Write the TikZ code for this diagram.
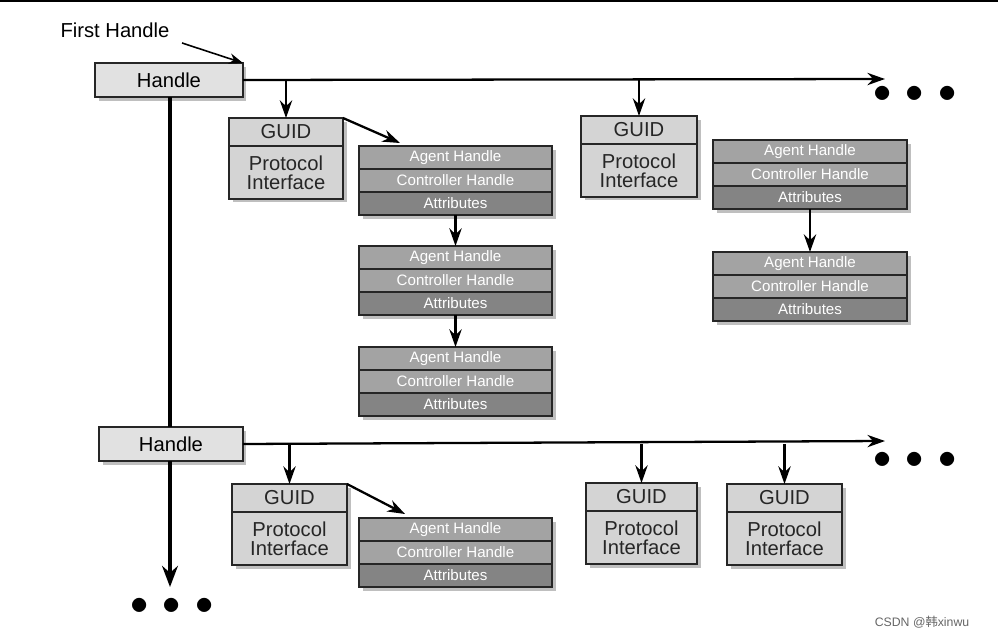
\documentclass[tikz,border=0pt]{standalone}
\usepackage{fontspec}
\setmainfont{Liberation Sans}
\newfontfamily\cjk{Noto Sans CJK SC}
\usetikzlibrary{arrows.meta,shadows}
\definecolor{lg}{HTML}{D4D4D4}
\definecolor{mg}{HTML}{A3A3A3}
\definecolor{dg}{HTML}{848484}
\tikzset{
 box/.style={draw=black!85,line width=1.3pt,inner sep=0,outer sep=0,anchor=north west,
   drop shadow={shadow xshift=2pt,shadow yshift=-2pt,fill=black,opacity=0.25}},
 hbox/.style={box,fill=lg!70,font=\fontsize{11.5}{12}\selectfont},
 guidrow/.style={box,fill=lg,font=\fontsize{11.5}{12}\selectfont,text=black!85},
 arow/.style={box,fill=mg,text=white,font=\fontsize{8.6}{9}\selectfont},
 trow/.style={box,fill=dg,text=white,font=\fontsize{8.6}{9}\selectfont},
 arr/.style={line width=1.3pt,-{Stealth[length=10pt,width=7pt]}},
 ln/.style={line width=1.8pt},
 dots/.style={inner sep=0,font=\fontsize{20}{20}\selectfont}
}
\newcommand\agentblock[4]{%
 \node[arow,minimum width={(#3-#2)*0.02cm},minimum height=0.46cm] (#1a) at (#2,#4) {Agent Handle};
 \node[arow,minimum width={(#3-#2)*0.02cm},minimum height=0.46cm] (#1c) at (#1a.south west) {Controller Handle};
 \node[trow,minimum width={(#3-#2)*0.02cm},minimum height=0.46cm] (#1t) at (#1c.south west) {Attributes};}
\newcommand\guidbox[4]{%
 \node[guidrow,minimum width={(#3-#2)*0.02cm},minimum height=0.56cm] (#1g) at (#2,#4) {GUID};
 \node[guidrow,minimum width={(#3-#2)*0.02cm},minimum height=1.06cm,align=center] (#1p) at (#1g.south west) {Protocol\\[-1pt]Interface};}
\begin{document}
\begin{tikzpicture}[x=0.02cm,y=-0.02cm]
\useasboundingbox (0,0) rectangle (998,639);
\fill[white] (0,0) rectangle (998,639);
\draw[line width=0.8pt] (0,1) -- (998,1);
\node[font=\fontsize{11.5}{12}\selectfont] (fh) at (115,30) {First Handle};
% handles
\node[hbox,minimum width=2.96cm,minimum height=0.68cm] (h1) at (95,63) {Handle};
\node[hbox,minimum width=2.88cm,minimum height=0.68cm] (h2) at (99,427) {Handle};
\coordinate (fha) at (182,43);
\draw[line width=0.9pt,-{Stealth[length=8pt,width=6pt]}] (fha) -- (h1.north east);
\coordinate (e1) at (885,79);
\coordinate (e2) at (885,441);
\draw[arr] (h1.east) -- (e1);
\draw[arr] (h2.east) -- (e2);
\node[dots] (d1) at (915,94) {$\bullet\,\bullet\,\bullet$};
\node[dots] (d2) at (915,460) {$\bullet\,\bullet\,\bullet$};
\coordinate (e3) at (170,587);
\draw[ln] (170,97) -- (170,427);
\draw[ln,-{Stealth[length=12pt,width=9pt]}] (170,461) -- (e3);
\node[dots] (d3) at (172,606) {$\bullet\,\bullet\,\bullet$};
% upper group
\guidbox{g1}{229}{343}{118}
\guidbox{g2}{581}{697}{116}
\agentblock{b1}{359}{552}{146}
\agentblock{b2}{359}{552}{246}
\agentblock{b3}{359}{552}{347}
\agentblock{b4}{713}{907}{140}
\agentblock{b5}{713}{907}{252}
\draw[arr] (g1g.north |- h1.east) -- (g1g.north);
\draw[arr] (g2g.north |- h1.east) -- (g2g.north);
\draw[arr] (g1g.north east) -- (400,143);
\draw[arr] (b1t.south) -- (b2a.north);
\draw[arr] (b2t.south) -- (b3a.north);
\draw[arr] (b4t.south) -- (b5a.north);
% lower group
\guidbox{g3}{232}{347}{484}
\guidbox{g4}{586}{697}{483}
\guidbox{g5}{727}{842}{484}
\agentblock{b6}{359}{552}{518}
\draw[arr] (g3g.north |- h2.east) -- (g3g.north);
\draw[arr] (g4g.north |- h2.east) -- (g4g.north);
\draw[arr] (g5g.north |- h2.east) -- (g5g.north);
\draw[arr] (g3g.north east) -- (405,514);
\node[text=black!60,font=\fontsize{7}{8}\selectfont] (wm) at (922,622) {CSDN @{\cjk 韩}xinwu};
\end{tikzpicture}
\end{document}
